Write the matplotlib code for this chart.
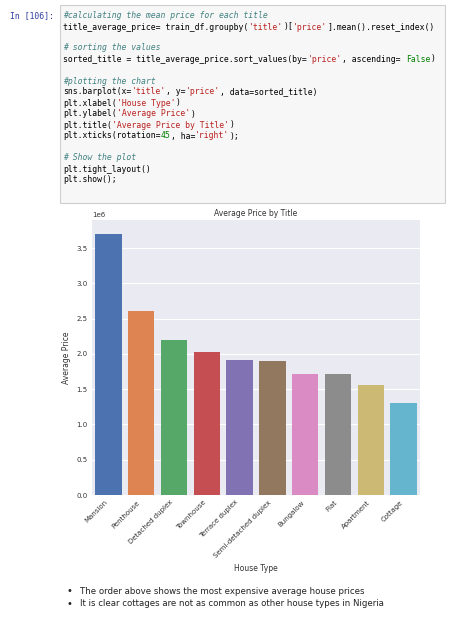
import matplotlib
matplotlib.use("Agg")
import matplotlib.pyplot as plt
import seaborn as sns
from matplotlib.patches import Rectangle

titles = ["Mansion", "Penthouse", "Detached duplex", "Townhouse", "Terrace duplex",
          "Semi-detached duplex", "Bungalow", "Flat", "Apartment", "Cottage"]
prices = [3.70e6, 2.61e6, 2.20e6, 2.03e6, 1.92e6, 1.90e6, 1.72e6, 1.71e6, 1.56e6, 1.31e6]
yticks = [0.0, 0.5, 1.0, 1.5, 2.0, 2.5, 3.0, 3.5]

W, H = 474, 625
fig = plt.figure(figsize=(W/100, H/100), dpi=100)
fig.patch.set_facecolor("white")

def fx(px): return px / W
def fy(py): return 1 - py / H

# code cell
fig.patches.append(Rectangle((fx(60), fy(203)), fx(445) - fx(60), fy(5) - fy(203),
                             transform=fig.transFigure, facecolor="#f7f7f7",
                             edgecolor="#cfcfcf", lw=0.8))
fig.text(fx(10), fy(16), "In [106]:", family="DejaVu Sans Mono", fontsize=5.9,
         color="#303f9f", va="center")

C, S, K, N = "#408080", "#ba2121", "#008000", "#000000"
code = [
    (16, [("#calculating the mean price for each title", C)]),
    (27, [("title_average_price= train_df.groupby(", N), ("'title'", S), (")[", N),
          ("'price'", S), ("].mean().reset_index()", N)]),
    (48, [("# sorting the values", C)]),
    (59, [("sorted_title = title_average_price.sort_values(by=", N), ("'price'", S),
          (", ascending= ", N), ("False", K), (")", N)]),
    (81, [("#plotting the chart", C)]),
    (92, [("sns.barplot(x=", N), ("'title'", S), (", y=", N), ("'price'", S),
          (", data=sorted_title)", N)]),
    (103, [("plt.xlabel(", N), ("'House Type'", S), (")", N)]),
    (114, [("plt.ylabel(", N), ("'Average Price'", S), (")", N)]),
    (125, [("plt.title(", N), ("'Average Price by Title'", S), (")", N)]),
    (136, [("plt.xticks(rotation=", N), ("45", K), (", ha=", N), ("'right'", S), (");", N)]),
    (158, [("# Show the plot", C)]),
    (169, [("plt.tight_layout()", N)]),
    (180, [("plt.show();", N)]),
]
cw = 4.9
for y, segs in code:
    x = 63
    for t, col in segs:
        fig.text(fx(x), fy(y), t, family="DejaVu Sans Mono", fontsize=5.9, color=col,
                 va="center", style="italic" if col == C else "normal")
        x += len(t) * cw

# chart
ax = fig.add_axes([fx(92), fy(495), fx(420) - fx(92), fy(220) - fy(495)])
ax.set_facecolor("#eaeaf2")
pal = sns.color_palette("deep", 10)
ax.bar(range(len(titles)), prices, width=0.8, color=pal, zorder=2)
ax.set_xlim(-0.5, len(titles) - 0.5)
ax.set_ylim(0, 3.9e6)
ax.set_yticks([v * 1e6 for v in yticks])
ax.set_yticklabels([f"{v:.1f}" for v in yticks], fontsize=5, color="#333333")
ax.yaxis.grid(True, color="white", lw=0.8, zorder=0)
ax.set_xticks(range(len(titles)))
ax.set_xticklabels(titles, rotation=45, ha="right", fontsize=5, color="#333333")
ax.tick_params(length=0, pad=3)
for s in ax.spines.values():
    s.set_visible(False)
ax.set_xlabel("House Type", fontsize=5.5, color="#333333")
ax.set_ylabel("Average Price", fontsize=5.5, color="#333333")
ax.set_title("Average Price by Title", fontsize=5.5, color="#333333", pad=3)
fig.text(fx(92), fy(215), "1e6", fontsize=5, color="#333333", va="center")

# bullets
for y, t in [(591, "The order above shows the most expensive average house prices"),
             (604, "It is clear cottages are not as common as other house types in Nigeria")]:
    fig.text(fx(66), fy(y), "•", fontsize=7, va="center", color="#222222")
    fig.text(fx(80), fy(y), t, fontsize=6.2, va="center", color="#222222")

fig.savefig("out.png", dpi=100)
